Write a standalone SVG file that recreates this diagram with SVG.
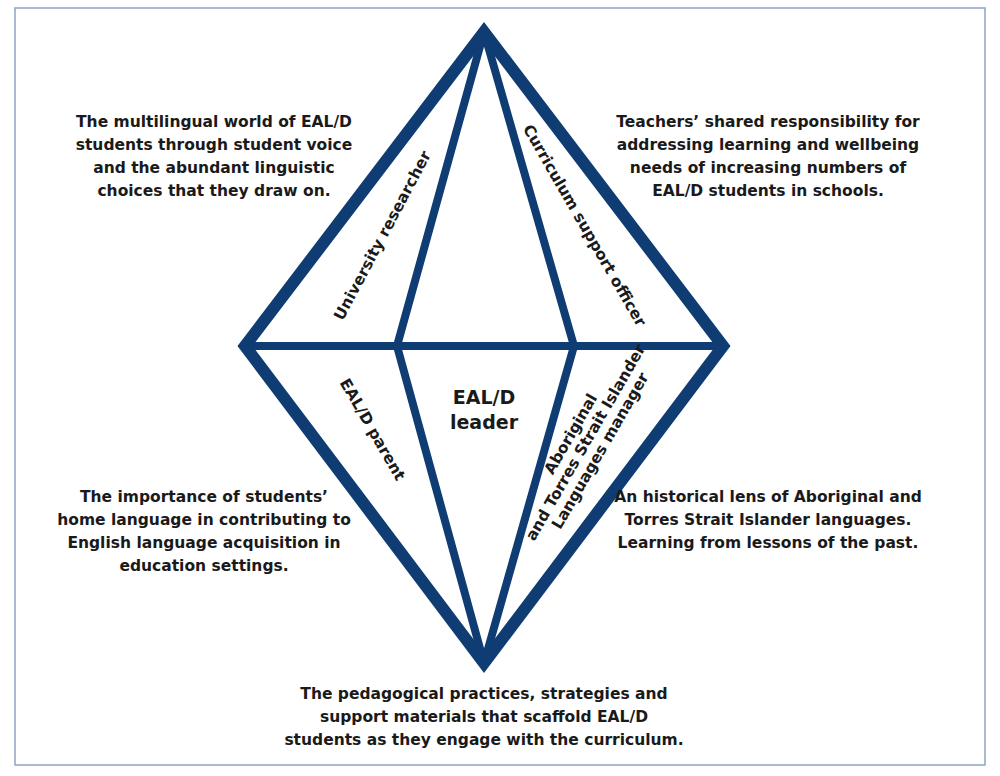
<svg xmlns="http://www.w3.org/2000/svg" width="1000" height="776" viewBox="0 0 1000 776">
<style>
text{font-family:"DejaVu Sans",sans-serif;font-weight:bold;fill:#1a1a1a;text-anchor:middle}
.d{font-size:15.5px}
.l{font-size:15.5px}
.c{font-size:19px}
.o{fill:none;stroke:#0f3d73;stroke-width:12;stroke-linejoin:miter}
.i{fill:none;stroke:#0f3d73;stroke-width:8}
</style>
<rect width="1000" height="776" fill="#fff"/>
<rect x="15" y="8" width="970" height="757" fill="none" stroke="#8fa4c4" stroke-width="1.5"/>
<g id="connectors">
<polygon class="o" points="484,32 723,346 484,663 245,346"/>
<line class="i" x1="245" y1="346" x2="723" y2="346"/>
<polyline class="i" points="484,32 397,346 484,663"/>
<polyline class="i" points="484,32 574,346 484,663"/>
</g>
<g id="university"><text class="l" transform="translate(387,238) rotate(-62)">University researcher</text></g>
<g id="curriculum"><text class="l" transform="translate(580,228) rotate(60)">Curriculum support officer</text></g>
<g id="parent"><text class="l" transform="translate(368,432) rotate(60)">EAL/D parent</text></g>
<g id="leader"><text class="c" x="484" y="404">EAL/D</text><text class="c" x="484" y="429">leader</text></g>
<g id="aboriginal"><text class="l" transform="translate(590,445) rotate(-60)"><tspan x="0" y="-17">Aboriginal</tspan><tspan x="0" y="0">and Torres Strait Islander</tspan><tspan x="0" y="17">Languages manager</tspan></text></g>
<g id="tl"><text class="d"><tspan x="214" y="127">The multilingual world of EAL/D</tspan><tspan x="214" y="150">students through student voice</tspan><tspan x="214" y="173">and the abundant linguistic</tspan><tspan x="214" y="196">choices that they draw on.</tspan></text></g>
<g id="tr"><text class="d"><tspan x="768" y="127">Teachers’ shared responsibility for</tspan><tspan x="768" y="150">addressing learning and wellbeing</tspan><tspan x="768" y="173">needs of increasing numbers of</tspan><tspan x="768" y="196">EAL/D students in schools.</tspan></text></g>
<g id="bl"><text class="d"><tspan x="204" y="502">The importance of students’</tspan><tspan x="204" y="525">home language in contributing to</tspan><tspan x="204" y="548">English language acquisition in</tspan><tspan x="204" y="571">education settings.</tspan></text></g>
<g id="br"><text class="d"><tspan x="768" y="502">An historical lens of Aboriginal and</tspan><tspan x="768" y="525">Torres Strait Islander languages.</tspan><tspan x="768" y="548">Learning from lessons of the past.</tspan></text></g>
<g id="bottom"><text class="d"><tspan x="484" y="699">The pedagogical practices, strategies and</tspan><tspan x="484" y="722">support materials that scaffold EAL/D</tspan><tspan x="484" y="745">students as they engage with the curriculum.</tspan></text></g>
</svg>
